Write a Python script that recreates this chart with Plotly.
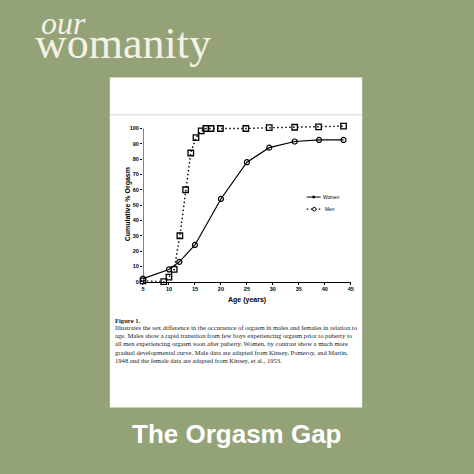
import plotly.graph_objects as go

W = H = 474

# values
women_age = [5, 10, 12, 15, 20, 25, 29.3, 34.2, 38.9, 43.6]
women_pct = [2, 8, 13, 24, 54, 78, 87.5, 91.5, 92.5, 92.5]

men_age = [5, 9, 10, 11, 12.1, 13.2, 14.2, 15.2, 16.2, 17.1, 18.1, 19.9, 24.8, 29.3, 34.2, 38.8, 43.6]
men_pct = [0.5, 0, 3, 8, 30, 60, 84, 94, 98.5, 100, 100, 100, 100, 100.5, 100.8, 101, 101.5]

x_ticks = [5, 10, 15, 20, 25, 30, 35, 40, 45]
y_ticks = [0, 10, 20, 30, 40, 50, 60, 70, 80, 90, 100]

caption = [
    "Illustrates the sex difference in the occurrence of orgasm in males and females in relation to",
    "age. Males show a rapid transition from few boys experiencing orgasm prior to puberty to",
    "all men experiencing orgasm soon after puberty. Women, by contrast show a much more",
    "gradual developmental curve. Male data are adapted from Kinsey, Pomeroy, and Martin,",
    "1948 and the female data are adapted from Kinsey, et al., 1953.",
]

GREEN = "#93a377"
CREAM = "#f4f1e6"


def px(x):
    return x / W


def py(y):
    return 1 - y / H


# plot area: age 5..45 -> x 142.5..352.5, pct 0..100 -> y 283.5..129.3
y_per = (283.5 - 129.3) / 100
y_top = 103

fig = go.Figure()
fig.add_trace(go.Scatter(x=women_age, y=women_pct, mode="lines+markers", name="Women",
                         line=dict(color="black", width=1.2),
                         marker=dict(symbol="circle-open", size=5, color="black",
                                     line=dict(width=1.2)),
                         cliponaxis=False))
fig.add_trace(go.Scatter(x=men_age, y=men_pct, mode="lines+markers", name="Men",
                         line=dict(color="black", width=1.4, dash="1.5px,2.5px"),
                         marker=dict(symbol="square-open", size=5.5, color="black",
                                     line=dict(width=1.3)),
                         cliponaxis=False))

tickfont = dict(family="Liberation Sans", size=5.5, color="black", weight="bold")
fig.update_xaxes(domain=[px(142.5), px(352.5)], range=[5, 45], tickvals=x_ticks,
                 showline=True, linecolor="black", linewidth=1, ticks="outside",
                 ticklen=2, tickcolor="black", tickfont=tickfont, showgrid=False,
                 zeroline=False)
fig.update_yaxes(domain=[py(283.5), py(283.5 - y_top * y_per)], range=[0, y_top],
                 tickvals=y_ticks, showline=False, ticks="outside",
                 ticklen=2, tickcolor="black", tickfont=tickfont, showgrid=False,
                 zeroline=False)

shapes = [
    dict(type="rect", xref="paper", yref="paper", x0=px(109), x1=px(364),
         y0=py(410), y1=py(78), fillcolor="white", line=dict(width=0), layer="below"),
    dict(type="line", xref="paper", yref="paper", x0=px(109), x1=px(364),
         y0=py(115.5), y1=py(115.5), line=dict(color="#e8e8e8", width=2), layer="below"),
    # y axis line stops at 100
    dict(type="line", xref="x", yref="y", x0=5, x1=5, y0=0, y1=100,
         line=dict(color="black", width=1)),
    # legend glyphs
    dict(type="line", xref="paper", yref="paper", x0=px(308), x1=px(322),
         y0=py(198.3), y1=py(198.3), line=dict(color="black", width=1)),
    dict(type="circle", xref="paper", yref="paper", x0=px(313.8), x1=px(316.2),
         y0=py(199.5), y1=py(197.1), fillcolor="black", line=dict(color="black", width=0.5)),
    dict(type="line", xref="paper", yref="paper", x0=px(308), x1=px(322),
         y0=py(210.5), y1=py(210.5), line=dict(color="black", width=1.3, dash="1.5px,2.5px")),
    dict(type="circle", xref="paper", yref="paper", x0=px(313.8), x1=px(317.4),
         y0=py(212.3), y1=py(208.7), fillcolor="white", line=dict(color="black", width=1)),
]

ann = []
legfont = dict(family="Liberation Sans", size=4.8, color="black")
ann.append(dict(x=px(322.5), y=py(198.3), text="Women", font=legfont))
ann.append(dict(x=px(324.5), y=py(210.5), text="Men", font=legfont))

ann.append(dict(x=px(127), y=py(206), text="Cumulative % Orgasm", textangle=-90,
                xanchor="center",
                font=dict(family="Liberation Sans", size=7, color="black", weight="bold")))
ann.append(dict(x=px(247.5), y=py(301.5), text="Age (years)", xanchor="center",
                font=dict(family="Liberation Sans", size=7, color="black", weight="bold")))

capfont = dict(family="Liberation Serif", size=6.6, color="#1a1a1a")
ann.append(dict(x=px(112), y=py(322.5), text="Figure 1.",
                font=dict(family="Liberation Serif", size=6.6, color="#1a1a1a", weight="bold")))
for i, line in enumerate(caption):
    ann.append(dict(x=px(112), y=py(329.5 + 8.3 * i), text=line, font=capfont))

# logo and title
ann.append(dict(x=px(37), y=py(23), text="our",
                font=dict(family="Liberation Serif", size=32, color=CREAM, style="italic")))
ann.append(dict(x=px(31), y=py(44), text="womanity",
                font=dict(family="Liberation Serif", size=44, color=CREAM)))
ann.append(dict(x=px(237), y=py(437), text="The Orgasm Gap", xanchor="center",
                font=dict(family="Liberation Sans", size=26, color="white", weight="bold")))

for a in ann:
    a.setdefault("xanchor", "left")
    a.update(xref="paper", yref="paper", yanchor="middle", showarrow=False)

fig.update_layout(width=W, height=H, margin=dict(l=0, r=0, t=0, b=0),
                  paper_bgcolor=GREEN, plot_bgcolor="rgba(0,0,0,0)",
                  showlegend=False, shapes=shapes, annotations=ann)

fig.write_html("out.html", config={"displayModeBar": False},
               post_script="document.body.style.margin='0';")
